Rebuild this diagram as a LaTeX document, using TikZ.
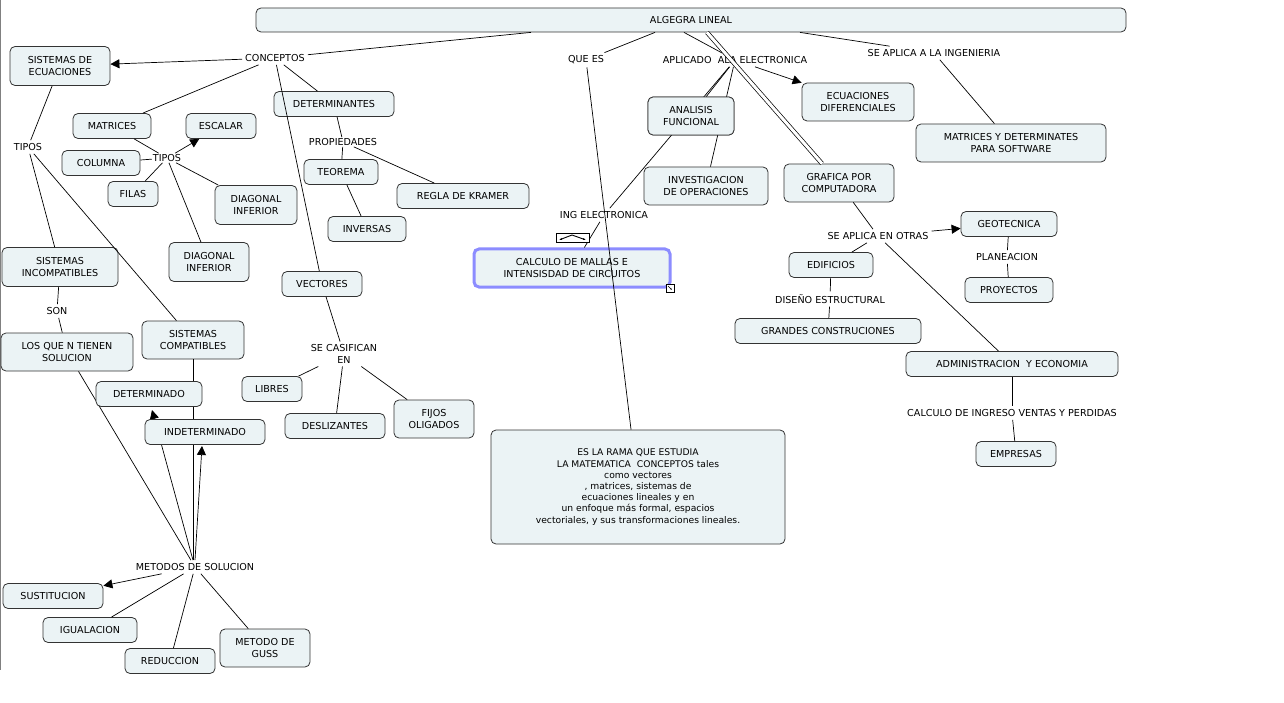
\documentclass[tikz,border=0pt]{standalone}
\usepackage{fontspec}
\setmainfont{DejaVu Sans}
\usetikzlibrary{arrows.meta}
\definecolor{bfill}{HTML}{EBF3F5}
\definecolor{bdraw}{HTML}{333333}
\begin{document}
\begin{tikzpicture}[x=1pt,y=-1pt,
  every node/.style={font=\fontsize{9.6}{11.5}\selectfont, align=center},
  box/.style={draw=bdraw, fill=bfill, rounded corners=5pt, line width=0.8pt, inner sep=2pt},
  lbl/.style={inner sep=3pt},
  ln/.style={line width=0.7pt, black},
  ar/.style={ln, -{Triangle[length=9pt,width=9pt]}}]
\useasboundingbox (0,0) rectangle (1284,703);
\draw[gray, line width=1pt] (0.5,0) -- (0.5,670);
% nodes
\node[box, minimum width=870, minimum height=24] (alg) at (691,20) {ALGEGRA LINEAL};
\node[box, minimum width=100, minimum height=39] (sis) at (60,66) {SISTEMAS DE\\ECUACIONES};
\node[lbl] (conc) at (275,58) {CONCEPTOS};
\node[box, minimum width=78, minimum height=25] (mat) at (112,126) {MATRICES};
\node[box, minimum width=70, minimum height=25] (esc) at (221,126) {ESCALAR};
\node[box, minimum width=78, minimum height=25] (col) at (101,163) {COLUMNA};
\node[lbl, inner sep=1pt] (tip2) at (167,158) {TIPOS};
\node[box, minimum width=50, minimum height=25] (fil) at (133,194) {FILAS};
\node[box, minimum width=82, minimum height=39] (d1) at (256,205) {DIAGONAL\\INFERIOR};
\node[box, minimum width=80, minimum height=39] (d2) at (209,262) {DIAGONAL\\INFERIOR};
\node[lbl] (tip1) at (28,147) {TIPOS};
\node[box, minimum width=120, minimum height=25] (det) at (334,104) {DETERMINANTES};
\node[lbl, inner sep=1pt] (prop) at (343,142) {PROPIEDADES};
\node[box, minimum width=74, minimum height=25] (teo) at (341,172) {TEOREMA};
\node[box, minimum width=132, minimum height=25] (reg) at (463,196) {REGLA DE KRAMER};
\node[box, minimum width=78, minimum height=25] (inv) at (367,229) {INVERSAS};
\node[box, minimum width=80, minimum height=25] (vec) at (322,284) {VECTORES};
\node[lbl] (cas) at (344,354) {SE CASIFICAN\\EN};
\node[box, minimum width=60, minimum height=25] (lib) at (272,389) {LIBRES};
\node[box, minimum width=100, minimum height=25] (des) at (335,426) {DESLIZANTES};
\node[box, minimum width=80, minimum height=38] (fij) at (434,419) {FIJOS\\OLIGADOS};
\node[box, minimum width=116, minimum height=39] (inc) at (60,267) {SISTEMAS\\INCOMPATIBLES};
\node[lbl] (son) at (57,311) {SON};
\node[box, minimum width=132, minimum height=38] (los) at (67,352) {LOS QUE N TIENEN\\SOLUCION};
\node[box, minimum width=102, minimum height=38] (comp) at (193,340) {SISTEMAS\\COMPATIBLES};
\node[lbl] (met) at (195,567) {METODOS DE SOLUCION};
% lines (under nodes drawn later)
\begin{scope}[on background layer/.style={}]
\end{scope}
\node[box, minimum width=100, minimum height=25] (sus) at (53,596) {SUSTITUCION};
\node[box, minimum width=94, minimum height=25] (igu) at (90,630) {IGUALACION};
\node[box, minimum width=90, minimum height=25] (red) at (170,661) {REDUCCION};
\node[box, minimum width=90, minimum height=38] (gus) at (265,648) {METODO DE\\GUSS};
\node[lbl] (que) at (586,60) {QUE ES};
\node[lbl] (apl) at (735,60) {APLICADO\ \ ALA ELECTRONICA};
\node[lbl] (ing) at (934,53) {SE APLICA A LA INGENIERIA};
\node[box, minimum width=86, minimum height=38] (ana) at (691,116) {ANALISIS\\FUNCIONAL};
\node[box, minimum width=124, minimum height=38] (inves) at (706,186) {INVESTIGACION\\DE OPERACIONES};
\node[box, minimum width=112, minimum height=38] (ecd) at (858,102) {ECUACIONES\\DIFERENCIALES};
\node[box, minimum width=190, minimum height=38] (mdet) at (1011,143) {MATRICES Y DETERMINATES\\PARA SOFTWARE};
\node[box, minimum width=110, minimum height=38] (gra) at (839,183) {GRAFICA POR\\COMPUTADORA};
\node[lbl] (iel) at (604,215) {ING ELECTRONICA};
\node[box, draw=blue!45, line width=3pt, minimum width=196, minimum height=38] (cal) at (572,268) {CALCULO DE MALLAS E\\INTENSISDAD DE CIRCUITOS};
\node[box, minimum width=294, minimum height=114, font=\fontsize{9.2}{11.2}\selectfont] (rama) at (638,487) {ES LA RAMA QUE ESTUDIA\\LA MATEMATICA\ \ CONCEPTOS tales\\como vectores\\, matrices, sistemas de\\ecuaciones lineales y en\\un enfoque más formal, espacios\\vectoriales, y sus transformaciones lineales.};
\node[lbl] (otr) at (878,236) {SE APLICA EN OTRAS};
\node[box, minimum width=96, minimum height=25] (geo) at (1009,224) {GEOTECNICA};
\node[lbl] (pla) at (1007,257) {PLANEACION};
\node[box, minimum width=88, minimum height=25] (pro) at (1009,290) {PROYECTOS};
\node[box, minimum width=84, minimum height=25] (edi) at (831,265) {EDIFICIOS};
\node[lbl] (dis) at (830,299) {DISEÑO ESTRUCTURAL};
\node[box, minimum width=186, minimum height=25] (gran) at (828,331) {GRANDES CONSTRUCIONES};
\node[box, minimum width=212, minimum height=25] (adm) at (1012,364) {ADMINISTRACION\ \ Y ECONOMIA};
\node[lbl] (cing) at (1012,413) {CALCULO DE INGRESO VENTAS Y PERDIDAS};
\node[box, minimum width=80, minimum height=25] (emp) at (1016,454) {EMPRESAS};
% connectors
\draw[ln] (alg.south -| 531,0) -- (conc);
\draw[ar] (conc) -- (sis);
\draw[ln] (conc) -- (mat);
\draw[ln] (conc) -- (det);
\draw[ln] (conc) -- (vec);
\draw[ln] (mat) -- (tip2);
\draw[ar] (tip2) -- (esc);
\draw[ln] (tip2) -- (col);
\draw[ln] (tip2) -- (fil);
\draw[ln] (tip2) -- (d1);
\draw[ln] (tip2) -- (d2);
\draw[ln] (sis) -- (tip1);
\draw[ln] (tip1) -- (inc);
\draw[ln] (tip1) -- (comp);
\draw[ln] (det) -- (prop);
\draw[ln] (prop) -- (teo);
\draw[ln] (teo) -- (inv);
\draw[ln] (prop) -- (reg);
\draw[ln] (vec) -- (cas);
\draw[ln] (cas) -- (lib);
\draw[ln] (cas) -- (des);
\draw[ln] (cas) -- (fij);
\draw[ln] (inc) -- (son);
\draw[ln] (son) -- (los);
\draw[ln] (los) -- (met);
\draw[ln] (comp.south) -- (met.north -| comp.south);
\draw[ar] (met.north -| 193,0) -- (152,410);
\draw[ar] (met.north -| 195,0) -- (202,446);
\draw[ar] (met) -- (sus);
\draw[ln] (met) -- (igu);
\draw[ln] (met) -- (red);
\draw[ln] (met) -- (gus);
\draw[ln] (alg.south -| 655,0) -- (que);
\draw[ln] (que) -- (rama);
\draw[ln] (alg.south -| 684,0) -- (apl);
\draw[ln] (apl) -- (ana);
\draw[ln] (apl) -- (inves);
\draw[ar] (apl) -- (ecd);
\draw[ln] (apl) -- (iel);
\draw[ln] (iel) -- (cal);
\draw[ln, double, double distance=3pt] (alg.south -| 707,0) -- (gra);
\draw[ln] (alg.south -| 800,0) -- (ing);
\draw[ln] (ing) -- (mdet);
\draw[ln] (gra) -- (otr);
\draw[ar] (otr) -- (geo);
\draw[ln] (otr) -- (edi);
\draw[ln] (otr) -- (adm);
\draw[ln] (geo) -- (pla);
\draw[ln] (pla) -- (pro);
\draw[ln] (edi) -- (dis);
\draw[ln] (dis) -- (gran);
\draw[ln] (adm) -- (cing);
\draw[ln] (cing) -- (emp);
% redraw boxes on top of crossing lines
\node[box, minimum width=86, minimum height=38] at (ana) {ANALISIS\\FUNCIONAL};
\node[box, minimum width=120, minimum height=25] at (205,432) {INDETERMINADO};
\node[box, minimum width=106, minimum height=25] at (149,394) {DETERMINADO};
% small icons
\draw[line width=0.8pt, fill=white] (556,233) rectangle (589,242);
\draw[line width=0.9pt, {Latex[length=3pt]}-{Latex[length=3pt]}] (559,240) -- (572,235) -- (586,240);
\draw[line width=0.6pt, fill=white] (666,284) rectangle (674,292);
\draw[line width=0.5pt, -{Latex[length=2pt]}] (668,286) -- (672,290);
\end{tikzpicture}
\end{document}
